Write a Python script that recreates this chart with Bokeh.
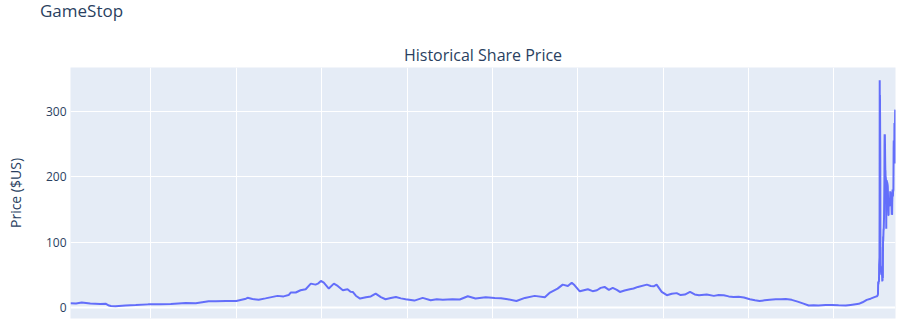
import pandas as pd
from bokeh.plotting import figure
from bokeh.layouts import column
from bokeh.models import ColumnDataSource, Range1d, FixedTicker, Span, Title, Div
from bokeh.embed import file_html
from bokeh.resources import INLINE

# ---- data ----
dates_hist = [
    "2002-02-13", "2002-04-01", "2002-05-20", "2002-08-01", "2002-10-25", "2002-12-10",
    "2003-01-08", "2003-01-25", "2003-03-05", "2003-05-30", "2003-08-25", "2003-12-10",
    "2004-03-25", "2004-06-20", "2004-10-25", "2005-01-20", "2005-05-10", "2005-07-10",
    "2005-10-05", "2006-01-01", "2006-03-25", "2006-04-08", "2006-05-20", "2006-07-12",
    "2006-09-08", "2006-12-20", "2007-02-10", "2007-03-25", "2007-04-12", "2007-05-25",
    "2007-07-05", "2007-08-18", "2007-10-01", "2007-11-10", "2007-12-05", "2007-12-26",
    "2008-01-20", "2008-03-03", "2008-04-15", "2008-05-18", "2008-07-01", "2008-08-10",
    "2008-09-05", "2008-09-24", "2008-10-20", "2008-11-25", "2009-01-15", "2009-02-25",
    "2009-04-08", "2009-05-22", "2009-07-01", "2009-08-15", "2009-09-28", "2009-11-10",
    "2009-12-20", "2010-03-05", "2010-05-15", "2010-07-22", "2010-09-12", "2010-11-03",
    "2011-01-25", "2011-03-28", "2011-06-05", "2011-08-10", "2011-11-05", "2012-01-22",
    "2012-03-15", "2012-05-12", "2012-07-25", "2012-10-05", "2012-12-28", "2013-03-25",
    "2013-05-08", "2013-07-12", "2013-08-25", "2013-10-08", "2013-11-10", "2013-12-05",
    "2014-01-18", "2014-03-28", "2014-05-08", "2014-06-14", "2014-07-16", "2014-08-18",
    "2014-09-24", "2014-10-27", "2014-12-01", "2014-12-27", "2015-02-05", "2015-03-22",
    "2015-04-23", "2015-05-30", "2015-08-15", "2015-09-17", "2015-10-12", "2015-11-06",
    "2015-12-20", "2016-02-02", "2016-03-15", "2016-04-26", "2016-05-30", "2016-07-05",
    "2016-08-18", "2016-09-27", "2016-11-03", "2017-01-08", "2017-03-10", "2017-04-20",
    "2017-06-03", "2017-07-15", "2017-08-25", "2017-10-08", "2017-11-22", "2018-01-12",
    "2018-02-25", "2018-04-05", "2018-05-18", "2018-07-01", "2018-08-22", "2018-10-05",
    "2018-11-15", "2019-01-05", "2019-02-25", "2019-04-16", "2019-05-30", "2019-07-12",
    "2019-08-22", "2019-10-22", "2019-12-12", "2020-02-10", "2020-04-12", "2020-05-22",
    "2020-07-05", "2020-08-01", "2020-09-02", "2020-10-08", "2020-11-10", "2020-12-24",
]
close_hist = [
    6.5, 6.3, 7.6, 6.0, 5.5, 5.8,
    3.0, 2.2, 2.0, 3.0, 3.8, 4.8,
    5.0, 5.3, 7.0, 6.5, 9.6, 9.5,
    10.0, 10.0, 13.5, 14.8, 13.0, 12.0,
    14.0, 17.8, 17.0, 19.0, 22.8, 23.0,
    26.4, 28.0, 36.5, 35.0, 37.0, 40.6,
    38.0, 29.0, 36.5, 33.0, 26.4, 28.0,
    24.0, 23.8, 18.0, 13.7, 15.7, 17.0,
    21.3, 16.0, 12.6, 14.5, 16.2, 14.0,
    12.6, 10.6, 14.7, 11.2, 12.5, 12.0,
    12.6, 12.2, 17.2, 13.7, 15.7, 14.7,
    14.2, 12.6, 10.0, 14.7, 17.8, 15.7,
    22.8, 28.9, 35.0, 33.0, 38.0, 33.9,
    24.8, 27.9, 25.0, 26.4, 30.0, 31.5,
    27.0, 30.0, 27.0, 23.8, 26.0, 28.0,
    29.0, 31.5, 35.0, 33.0, 32.5, 35.0,
    23.8, 18.8, 21.0, 22.0, 19.0, 19.8,
    23.8, 20.0, 18.8, 19.8, 17.8, 19.0,
    18.8, 17.0, 16.2, 16.5, 15.2, 12.6,
    11.0, 10.0, 11.0, 12.0, 12.6, 12.6,
    13.0, 11.7, 9.0, 6.0, 3.0, 3.5,
    3.0, 3.8, 4.0, 3.5, 3.0, 4.0,
    5.0, 5.6, 8.0, 11.7, 13.5, 16.7,
]

dates_2021 = [
    "2021-01-04", "2021-01-05", "2021-01-06", "2021-01-07", "2021-01-08", "2021-01-11",
    "2021-01-12", "2021-01-13", "2021-01-14", "2021-01-15", "2021-01-19", "2021-01-20",
    "2021-01-21", "2021-01-22", "2021-01-25", "2021-01-26", "2021-01-27", "2021-01-28",
    "2021-01-29", "2021-02-01", "2021-02-02", "2021-02-03", "2021-02-04", "2021-02-05",
    "2021-02-08", "2021-02-09", "2021-02-10", "2021-02-11", "2021-02-12", "2021-02-16",
    "2021-02-17", "2021-02-18", "2021-02-19", "2021-02-22", "2021-02-23", "2021-02-24",
    "2021-02-25", "2021-02-26", "2021-03-01", "2021-03-02", "2021-03-03", "2021-03-04",
    "2021-03-05", "2021-03-08", "2021-03-09", "2021-03-10", "2021-03-11", "2021-03-12",
    "2021-03-15", "2021-03-16", "2021-03-17", "2021-03-18", "2021-03-19", "2021-03-22",
    "2021-03-23", "2021-03-24", "2021-03-25", "2021-03-26", "2021-03-29", "2021-03-30",
    "2021-03-31", "2021-04-01", "2021-04-05", "2021-04-06", "2021-04-07", "2021-04-08",
    "2021-04-09", "2021-04-12", "2021-04-13", "2021-04-14", "2021-04-15", "2021-04-16",
    "2021-04-19", "2021-04-20", "2021-04-21", "2021-04-22", "2021-04-23", "2021-04-26",
    "2021-04-27", "2021-04-28", "2021-04-29", "2021-04-30", "2021-05-03", "2021-05-04",
    "2021-05-05", "2021-05-06", "2021-05-07", "2021-05-10", "2021-05-11", "2021-05-12",
    "2021-05-13", "2021-05-14", "2021-05-17", "2021-05-18", "2021-05-19", "2021-05-20",
    "2021-05-21", "2021-05-24", "2021-05-25", "2021-05-26", "2021-05-27", "2021-05-28",
    "2021-06-01", "2021-06-02", "2021-06-03", "2021-06-04", "2021-06-07", "2021-06-08",
    "2021-06-09", "2021-06-10", "2021-06-11",
]
close_2021 = [
    17.25, 17.37, 18.36, 18.08, 17.69, 19.94,
    19.95, 31.40, 39.91, 35.50, 39.36, 39.12,
    43.03, 65.01, 76.79, 147.98, 347.51, 193.60,
    325.00, 225.00, 90.00, 92.41, 53.50, 63.77,
    60.00, 50.31, 51.20, 51.10, 52.40, 49.51,
    45.94, 40.69, 40.59, 46.00, 44.97, 91.71,
    108.73, 101.74, 120.40, 118.18, 124.18, 132.35,
    137.74, 194.50, 246.90, 265.00, 260.00, 264.50,
    220.14, 208.17, 209.81, 200.27, 200.27, 194.49,
    181.75, 120.34, 183.75, 181.00, 194.46, 189.82,
    190.82, 191.45, 186.95, 184.50, 177.97, 170.26,
    158.36, 141.09, 140.99, 166.53, 156.44, 154.69,
    160.10, 156.42, 160.75, 154.97, 158.53, 168.86,
    177.77, 175.19, 176.19, 173.59, 165.37, 158.42,
    159.94, 163.75, 159.94, 141.71, 145.46, 141.78,
    142.46, 159.94, 180.60, 175.22, 170.00, 170.00,
    176.79, 180.01, 209.43, 242.56, 255.25, 220.39,
    248.36, 282.24, 258.18, 248.36, 280.01, 300.00,
    302.56, 220.39, 233.00,
]

y_ticks = [0, 100, 200, 300]
x_grid_years = [2004, 2006, 2008, 2010, 2012, 2014, 2016, 2018, 2020]

all_dates = pd.to_datetime(dates_hist + dates_2021)
all_close = close_hist + close_2021
src = ColumnDataSource(dict(date=all_dates, close=all_close))

FONT = "Open Sans"
TXT = "#2a3f5f"
DIV_H = 30

header = Div(
    text=('<div style="font-family:\'Open Sans\';font-size:17px;color:#2a3f5f;'
          'line-height:17px;padding:2px 0 0 40px;margin:0;white-space:nowrap">GameStop</div>'),
    width=903, height=DIV_H, margin=(0, 0, 0, 0))

p = figure(width=903, height=325 - DIV_H, x_axis_type="datetime",
           output_backend="svg", toolbar_location=None,
           x_range=Range1d(all_dates.min(), all_dates.max()),
           y_range=Range1d(-16.8, 367),
           min_border_left=70, min_border_right=8,
           min_border_top=67 - DIV_H, min_border_bottom=7,
           margin=(0, 0, 0, 0))
p.title = None
p.background_fill_color = "#E5ECF6"
p.border_fill_color = "white"
p.outline_line_color = None

p.xaxis.visible = False
p.xgrid.ticker = FixedTicker(ticks=[pd.Timestamp(f"{y}-01-01").value / 1e6 for y in x_grid_years])
p.xgrid.grid_line_color = "white"
p.xgrid.grid_line_width = 1

p.yaxis.ticker = FixedTicker(ticks=y_ticks)
p.ygrid.ticker = FixedTicker(ticks=[t for t in y_ticks if t != 0])
p.ygrid.grid_line_color = "white"
p.ygrid.grid_line_width = 1
p.yaxis.axis_line_color = None
p.yaxis.major_tick_line_color = None
p.yaxis.minor_tick_line_color = None
p.yaxis.major_tick_out = 0
p.yaxis.major_tick_in = 0
p.yaxis.major_label_standoff = 4
p.yaxis.major_label_text_font = FONT
p.yaxis.major_label_text_font_size = "12px"
p.yaxis.major_label_text_color = TXT
p.yaxis.axis_label = "Price ($US)"
p.yaxis.axis_label_text_font = FONT
p.yaxis.axis_label_text_font_size = "14px"
p.yaxis.axis_label_text_font_style = "normal"
p.yaxis.axis_label_text_color = TXT
p.yaxis.axis_label_standoff = 18

zero = Span(location=0, dimension="width", line_color="white", line_width=2, level="underlay")
p.add_layout(zero)

p.line("date", "close", source=src, line_color="#636efa", line_width=2)

p.add_layout(Title(text="Historical Share Price", align="center", text_font=FONT,
                   text_font_size="16px", text_color=TXT, text_font_style="normal",
                   standoff=3), "above")

layout = column(header, p, spacing=0)
open("out.html", "w").write(file_html(layout, INLINE))
